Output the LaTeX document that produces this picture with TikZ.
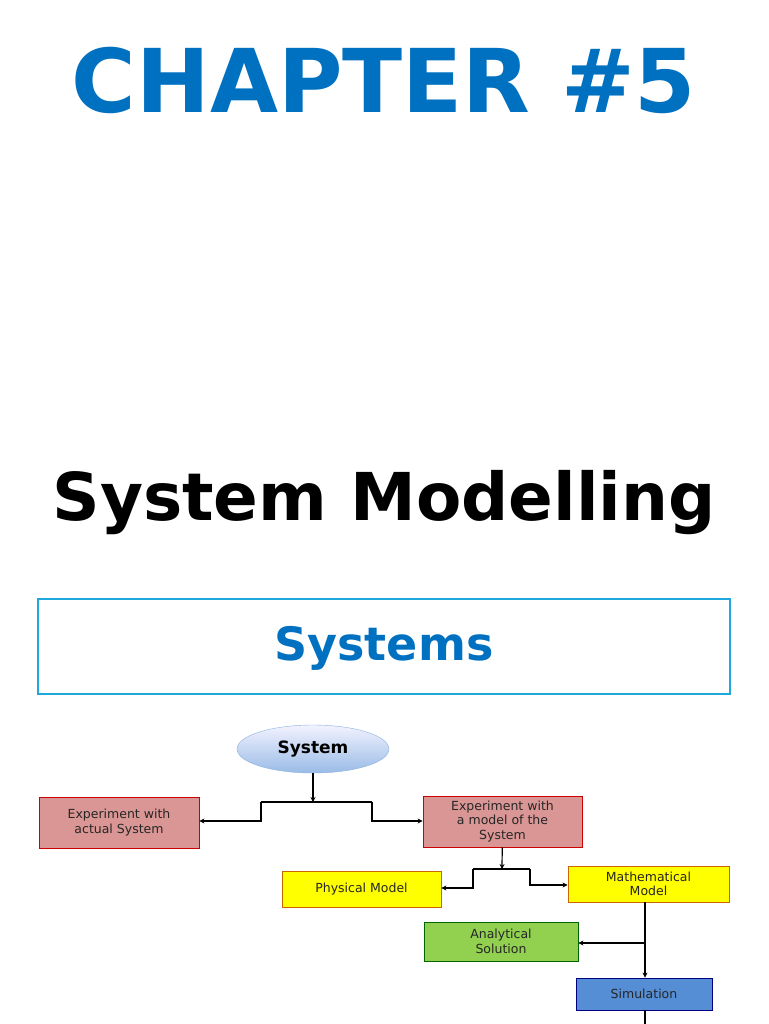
\documentclass[tikz,border=0pt]{standalone}
\usepackage{fontspec}
\setmainfont{DejaVu Sans}
\usetikzlibrary{shapes.geometric,arrows.meta}
\definecolor{titleblue}{HTML}{0070C0}
\definecolor{boxcyan}{HTML}{1FA8DE}
\definecolor{pinkf}{HTML}{DA9694}
\definecolor{yel}{HTML}{FFFF00}
\definecolor{grn}{HTML}{92D050}
\definecolor{blu}{HTML}{558ED5}
\tikzset{
 bx/.style={draw, line width=0.8pt, minimum height=#1, align=center, inner sep=1pt, font=\fontsize{12.5}{14.5}\selectfont, text=black!85},
 conn/.style={line width=1.2pt, -{Stealth[length=5pt,width=5pt]}},
 ln/.style={line width=1.2pt}
}
\begin{document}
\begin{tikzpicture}[x=1pt,y=-1pt]
\useasboundingbox (0,0) rectangle (768,1024);
\fill[white] (0,0) rectangle (768,1024);
\node[font=\bfseries\fontsize{88}{90}\selectfont, text=titleblue] (t1) at (384,80) {CHAPTER \#5};
\node[font=\bfseries\fontsize{66}{70}\selectfont] (t2) at (384,503) {System Modelling};
\node[draw=boxcyan, line width=2.5pt, minimum width=692pt, minimum height=95pt] (sb) at (384,646.5) {};
\node[font=\bfseries\fontsize{46}{50}\selectfont, text=titleblue] (st) at (384,648) {Systems};
\node[ellipse, draw=blu!70, top color=blue!5, bottom color=blu!60, minimum width=152pt, minimum height=48pt, font=\bfseries\fontsize{17}{20}\selectfont] (sys) at (313,749) {System};
\node[bx=51pt, draw=red!80!black, fill=pinkf, minimum width=160pt] (ea) at (119,822.5) {Experiment with\\actual System};
\node[bx=51pt, draw=red!80!black, fill=pinkf, minimum width=159pt] (em) at (502.5,821.5) {Experiment with\\a model of the\\System};
\node[bx=36pt, draw=orange!80!black, fill=yel, minimum width=159pt] (pm) at (361.5,889) {Physical Model};
\node[bx=36pt, draw=orange!80!black, fill=yel, minimum width=161pt] (mm) at (648.5,884) {Mathematical\\Model};
\node[bx=39pt, draw=green!40!black, fill=grn, minimum width=154pt] (an) at (501,941.5) {Analytical\\Solution};
\node[bx=32pt, draw=blue!50!black, fill=blu, minimum width=136pt] (sim) at (644,994) {Simulation};
\coordinate (j1) at (313,802);
\coordinate (j2) at (502,869);
\coordinate (j3) at (645,943);
\coordinate (bot) at (645,1024);
\draw[conn] (sys) -- (j1);
\draw[ln] (261,802) -- (372,802);
\draw[conn] (261,802) -- (261,821) -- (ea.east|-0,821);
\draw[conn] (372,802) -- (372,821) -- (em.west|-0,821);
\draw[conn] (em) -- (j2);
\draw[ln] (473,869) -- (530,869);
\draw[conn] (473,869) -- (473,888) -- (pm.east|-0,888);
\draw[conn] (530,869) -- (530,885) -- (mm.west|-0,885);
\draw[conn] (mm.south-|j3) -- (sim.north-|j3);
\draw[conn] (j3) -- (an.east|-j3);
\draw[ln] (sim.south-|bot) -- (bot);
\end{tikzpicture}
\end{document}
